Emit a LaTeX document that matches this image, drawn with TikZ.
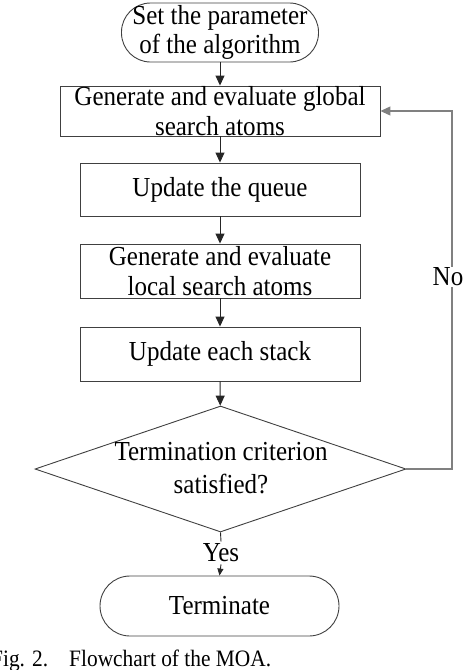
\documentclass[tikz,border=0pt]{standalone}
\usepackage{fontspec}
\setmainfont{Liberation Serif}[FakeStretch=0.91]
\usetikzlibrary{shapes.geometric,arrows.meta}
\begin{document}
\begin{tikzpicture}[x=1pt,y=-1pt,
  txt/.style={font=\fontsize{27.5}{29.5}\selectfont, align=center},
  box/.style={txt, draw=black!75, line width=0.9pt, inner sep=0pt},
  term/.style={box, rounded corners=29pt},
  conn/.style={draw=black!85, line width=0.9pt, -{Triangle[width=9pt,length=10pt]}},
  smallconn/.style={draw=black!85, line width=0.9pt, -{Triangle[width=6pt,length=7pt]}},
  plainline/.style={draw=black!85, line width=0.9pt},
  fbline/.style={draw=black!50, line width=1.1pt, -{Triangle[width=9pt,length=10pt]}},
  ]
\useasboundingbox (0,0) rectangle (466,670);
\clip (0,0) rectangle (466,670);
\node[term, minimum width=197pt, minimum height=59pt] (start) at (220,32.5) {Set the parameter\\of the algorithm};
\node[box, minimum width=320pt, minimum height=50pt] (glob) at (220,111) {Generate and evaluate global\\search atoms};
\node[box, minimum width=280pt, minimum height=53pt] (queue) at (220,189.5) {Update the queue};
\node[box, minimum width=280pt, minimum height=54pt] (local) at (220,271) {Generate and evaluate\\local search atoms};
\node[box, minimum width=280pt, minimum height=54pt] (stack) at (220,354) {Update each stack};
\node[diamond, draw=black!75, line width=0.9pt, inner sep=0pt, minimum width=371pt, minimum height=126pt] (dec) at (220.5,469) {};
\node[font=\fontsize{27.5}{33}\selectfont, align=center, inner sep=0pt] (dectext) at (221,468) {Termination criterion\\satisfied?};
\node[term, minimum width=239pt, minimum height=60pt, rounded corners=30pt] (end) at (219.5,606) {Terminate};
\node[txt, inner sep=2pt] (yes) at (221,553) {Yes};
\coordinate (fb) at (452,0);
\draw[conn] (start) -- (glob);
\draw[conn] (glob) -- (queue);
\draw[conn] (queue) -- (local);
\draw[conn] (local) -- (stack);
\draw[conn] (stack) -- (dec);
\draw[plainline] (dec.south) -- (yes.north);
\draw[smallconn] (yes.south) -- (end.north);
\draw[fbline] (dec.east) -- (dec.east -| fb) -- (glob.east -| fb) -- (glob.east);
\node[txt, fill=white, inner sep=1pt] (no) at (448,277) {No};
\node[anchor=base west, inner sep=0pt, font=\fontsize{23.5}{25}\selectfont] (cap) at (-9,666) {Fig. 2.\hspace{21pt}Flowchart of the MOA.};
\end{tikzpicture}
\end{document}
